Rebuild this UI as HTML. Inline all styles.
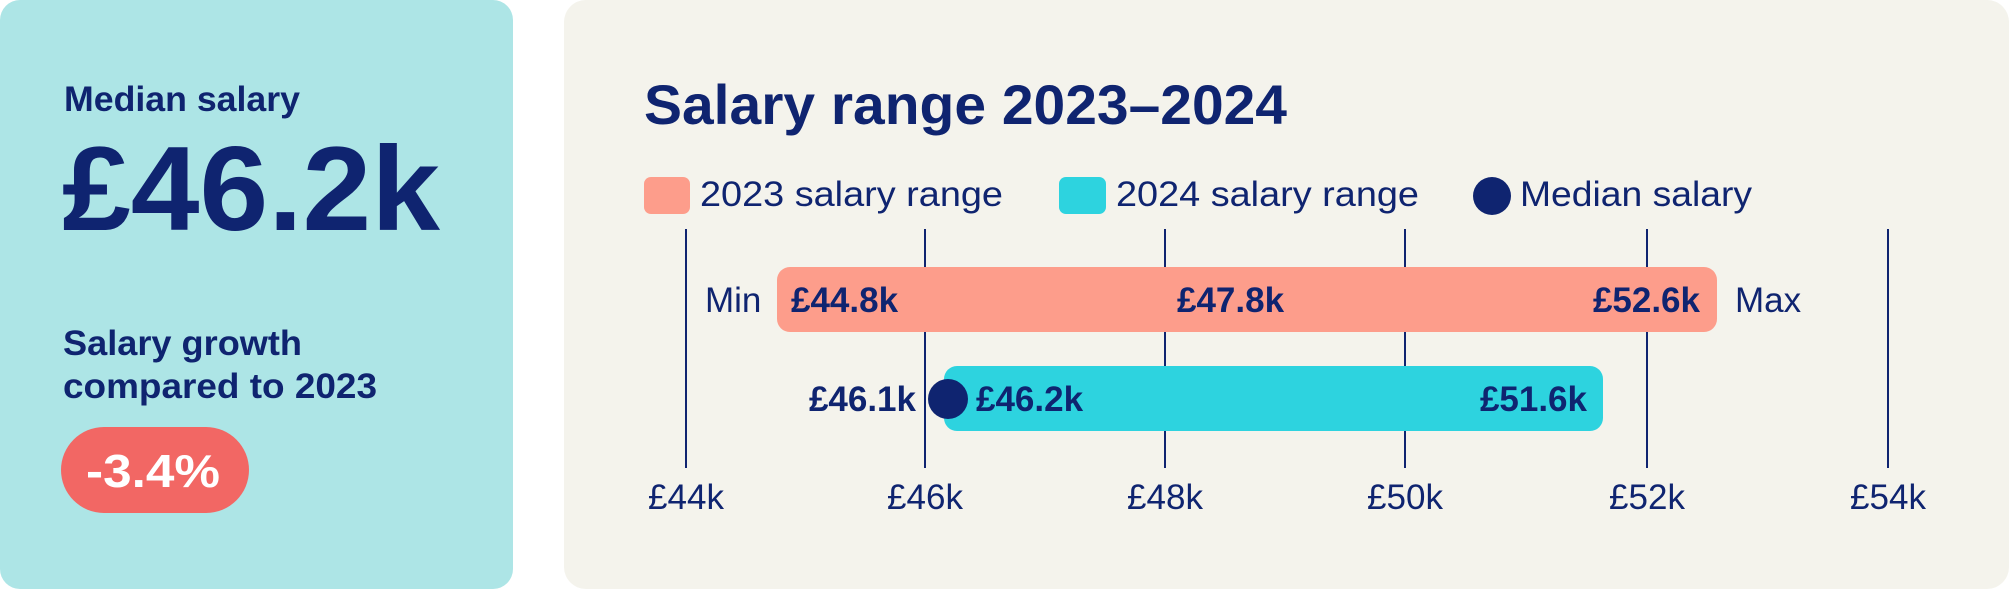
<!DOCTYPE html>
<html><head><meta charset="utf-8"><style>
html,body{margin:0;padding:0;background:#fff;}
svg{display:block;}
text{font-family:"Liberation Sans",sans-serif;fill:#0f2470;}
.b{font-weight:bold;}
</style></head><body>
<svg width="2009" height="589" viewBox="0 0 2009 589" xmlns="http://www.w3.org/2000/svg">
<rect x="0" y="0" width="513" height="589" rx="20" fill="#ade5e6"/>
<rect x="564" y="0" width="1445" height="589" rx="22" fill="#f4f3ec"/>

<text x="64" y="111" class="b" font-size="35" textLength="236" lengthAdjust="spacingAndGlyphs">Median salary</text>
<text x="62" y="230" class="b" font-size="120" textLength="378" lengthAdjust="spacingAndGlyphs">£46.2k</text>
<text x="63" y="355" class="b" font-size="35" textLength="239" lengthAdjust="spacingAndGlyphs">Salary growth</text>
<text x="63" y="398" class="b" font-size="35" textLength="314" lengthAdjust="spacingAndGlyphs">compared to 2023</text>
<rect x="61" y="427" width="188" height="86" rx="43" fill="#f26764"/>
<text x="86" y="487" class="b" font-size="46" style="fill:#fff" textLength="134" lengthAdjust="spacingAndGlyphs">-3.4%</text>

<text x="644" y="124" class="b" font-size="56" textLength="643" lengthAdjust="spacingAndGlyphs">Salary range 2023–2024</text>

<rect x="644" y="177" width="46" height="37" rx="7" fill="#fd9d8b"/>
<text x="700" y="206" font-size="35" textLength="303" lengthAdjust="spacingAndGlyphs">2023 salary range</text>
<rect x="1059" y="177" width="47" height="37" rx="7" fill="#2dd3df"/>
<text x="1116" y="206" font-size="35" textLength="303" lengthAdjust="spacingAndGlyphs">2024 salary range</text>
<ellipse cx="1492" cy="196" rx="19" ry="19" fill="#0f2470"/>
<text x="1520" y="206" font-size="35" textLength="232" lengthAdjust="spacingAndGlyphs">Median salary</text>

<g stroke="#0f2470" stroke-width="2">
<line x1="686" y1="229" x2="686" y2="468"/>
<line x1="925" y1="229" x2="925" y2="468"/>
<line x1="1165" y1="229" x2="1165" y2="468"/>
<line x1="1405" y1="229" x2="1405" y2="468"/>
<line x1="1647" y1="229" x2="1647" y2="468"/>
<line x1="1888" y1="229" x2="1888" y2="468"/>
</g>

<g font-size="35" text-anchor="middle">
<text x="686" y="509">£44k</text>
<text x="925" y="509">£46k</text>
<text x="1165" y="509">£48k</text>
<text x="1405" y="509">£50k</text>
<text x="1647" y="509">£52k</text>
<text x="1888" y="509">£54k</text>
</g>

<rect x="777" y="267" width="940" height="65" rx="13" fill="#fd9d8b"/>
<text x="705" y="312" font-size="35">Min</text>
<text x="1735" y="312" font-size="35">Max</text>
<text x="791" y="312" class="b" font-size="35">£44.8k</text>
<text x="1177" y="312" class="b" font-size="35">£47.8k</text>
<text x="1700" y="312" class="b" font-size="35" text-anchor="end">£52.6k</text>

<rect x="944" y="366" width="659" height="65" rx="13" fill="#2dd3df"/>
<circle cx="948" cy="399" r="20" fill="#0f2470"/>
<text x="916" y="411" class="b" font-size="35" text-anchor="end">£46.1k</text>
<text x="976" y="411" class="b" font-size="35">£46.2k</text>
<text x="1587" y="411" class="b" font-size="35" text-anchor="end">£51.6k</text>
</svg>
</body></html>
